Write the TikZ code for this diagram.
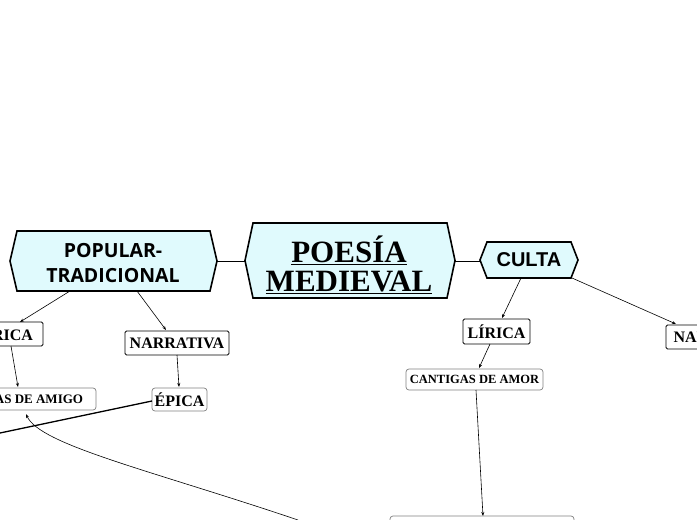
\documentclass[tikz,border=0pt]{standalone}
\usepackage{fontspec}
\setmainfont{Liberation Serif}
\newfontfamily\opens{Open Sans}
\newfontfamily\lsans{Liberation Sans}
\usetikzlibrary{arrows.meta}
\definecolor{hexfill}{HTML}{E0FAFD}
\tikzset{
  conn/.style={draw=black, line width=0.6pt, -{Stealth[length=4pt,width=3pt]}},
  plain/.style={draw=black, line width=0.8pt},
  brace/.style={draw=black, line width=0.8pt, fill=white, rounded corners=1.5pt},
  soft/.style={draw=gray, line width=0.7pt, fill=white, rounded corners=3pt},
}
\newcommand{\hexbox}[5]{% x1,y1,x2,y2,inset
  \draw[fill=hexfill, line width=1.6pt] (#1+#5,-#2) -- (#3-#5,-#2) -- (#3,-#2/2-#4/2) -- (#3-#5,-#4) -- (#1+#5,-#4) -- (#1,-#2/2-#4/2) -- cycle;}
\begin{document}
\begin{tikzpicture}[x=1pt,y=1pt]
\useasboundingbox (0,0) rectangle (697,-520);
\clip (0,0) rectangle (697,-520);
% hex nodes
\hexbox{245}{223}{455}{298}{8}
\node (poesia) at (350,-261) {};
\node[align=center, font=\bfseries\fontsize{31}{32}\selectfont] at (349,-265) {\underline{POESÍA}\\[-3pt]\underline{MEDIEVAL}};
\hexbox{10}{231}{217}{291}{7}
\node (pop) at (113,-261) {};
\node[align=center, font=\opens\bfseries\fontsize{19.5}{25}\selectfont] at (113,-263) {POPULAR-\\TRADICIONAL};
\hexbox{480}{242}{578}{278}{7}
\node (culta) at (529,-260) {};
\node[font=\lsans\bfseries\fontsize{20}{21}\selectfont] at (529,-260) {CULTA};
% small nodes
\draw[brace] (-30,-322) rectangle (43,-346);
\node[font=\bfseries\fontsize{16}{17}\selectfont] (lirL) at (4,-334) {LÍRICA};
\draw[brace] (125,-331) rectangle (229,-355);
\node[font=\bfseries\fontsize{16}{17}\selectfont] (narrL) at (177,-343) {NARRATIVA};
\draw[soft] (-60,-388) rectangle (96,-410);
\node[font=\bfseries\fontsize{13}{14}\selectfont] (amigo) at (13,-399) {CANTIGAS DE AMIGO};
\draw[soft] (152,-388) rectangle (207,-411);
\node[font=\bfseries\fontsize{16}{17}\selectfont] (epica) at (179.5,-399.5) {ÉPICA};
\draw[brace] (463,-319) rectangle (530,-344);
\node[font=\bfseries\fontsize{16}{17}\selectfont] (lirR) at (496.5,-331.5) {LÍRICA};
\draw[soft] (406,-369) rectangle (543,-390);
\node[font=\bfseries\fontsize{12.5}{13}\selectfont] (amor) at (474.5,-379.5) {CANTIGAS DE AMOR};
\draw[brace] (666,-325) rectangle (760,-349);
\node[font=\bfseries\fontsize{16}{17}\selectfont, anchor=west] (narrR) at (670,-337) {NARRATIVA};
\draw[soft] (390,-516) rectangle (574,-545);
\coordinate (bot) at (483,-516);
\coordinate (curveend) at (298,-520);
\coordinate (epicaend) at (0,-433);
% connectors
\draw[plain] (217,-261) -- (245,-261);
\draw[plain] (455,-261) -- (480,-261);
\draw[conn] (70,-291) -- (20,-322);
\draw[conn] (137,-291) -- (166,-330);
\draw[conn] (177,-355) -- (179,-387);
\draw[conn] (11,-346) -- (18,-387);
\draw[line width=1.3pt] (152,-401) -- (epicaend);
\draw[conn] (521,-278) -- (502,-318);
\draw[conn] (572,-278) -- (676,-324);
\draw[conn] (490,-344) -- (479,-368);
\draw[conn] (476,-390) -- (bot);
\draw[conn] (curveend) .. controls (150,-470) and (40,-445) .. (26,-414);
\end{tikzpicture}
\end{document}
